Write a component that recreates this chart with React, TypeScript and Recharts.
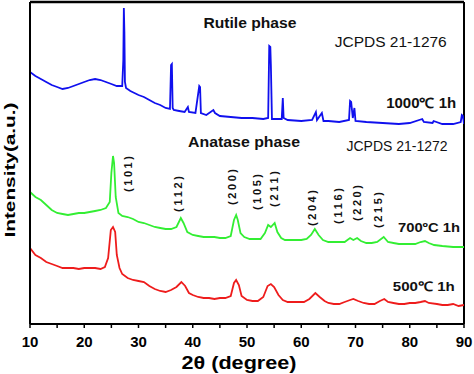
import React from 'react'
import { LineChart, Line, XAxis, YAxis, ReferenceLine, ReferenceDot } from 'recharts'

// [2θ, intensity] (arbitrary units)
const rutile1000: number[][] = [
  [10, 252], [10.5, 250], [11, 248], [12, 245], [13, 242], [14, 239], [15, 237], [16, 235],
  [17, 236], [18, 238], [19, 240], [20, 242], [21, 244], [22, 245], [23, 244], [24, 242],
  [25, 240], [26, 238], [27, 238], [27.2, 264], [27.3, 316], [27.4, 292], [27.5, 242],
  [27.7, 236], [28.5, 233], [30, 229], [31, 227], [32, 224], [33, 221], [34, 219], [35, 216],
  [35.8, 215], [36.0, 259], [36.15, 260], [36.3, 216], [36.5, 214], [37.5, 213], [38.5, 212],
  [39.1, 217], [39.3, 212], [40.5, 211], [41.2, 238], [41.35, 237], [41.5, 211], [42.5, 209],
  [43.8, 214], [44.1, 211], [45, 208], [47, 207], [49, 206], [51, 206], [53, 205], [53.9, 206],
  [54.1, 278], [54.3, 277], [54.4, 259], [54.6, 205], [56.4, 205], [56.6, 226], [56.75, 206],
  [57.5, 204], [60, 203], [62, 204], [62.7, 212], [62.9, 204], [63.8, 211], [64.1, 203],
  [65, 203], [67, 202], [68.8, 204], [69.0, 223], [69.2, 222], [69.5, 206], [69.8, 216],
  [70.0, 203], [72, 202], [75, 201], [78, 200], [80, 201], [82.3, 205], [82.6, 202],
  [84.2, 201], [84.4, 203], [86, 200], [88, 200], [89.4, 202], [89.6, 209], [89.8, 208], [90, 200],
]

const anatase700: number[][] = [
  [10, 132], [11, 127], [12, 124], [13, 119], [14, 114], [15, 111], [16, 110], [17, 109],
  [18, 110], [19, 111], [20, 111], [21, 112], [22, 113], [23, 114], [24, 116], [24.7, 122],
  [25.0, 151], [25.3, 168], [25.5, 161], [25.8, 127], [26.3, 111], [27, 108], [28, 107],
  [29, 105], [30, 102], [31, 101], [32, 99], [33, 97], [34, 96], [35, 95], [36, 95], [37, 97],
  [37.8, 106], [38.3, 101], [39, 92], [40, 89], [41, 88], [42, 87], [43, 87], [44, 87],
  [45, 86], [46, 86], [47, 88], [47.6, 104], [48.0, 109], [48.3, 104], [48.8, 91], [49.5, 87],
  [50.5, 85], [51.5, 85], [52.5, 85], [53.3, 91], [53.9, 99], [54.4, 97], [55.1, 101],
  [55.6, 92], [56.3, 86], [57, 84], [58, 84], [59, 84], [60, 84], [61, 85], [61.8, 89],
  [62.5, 95], [63.2, 89], [64, 84], [65, 82], [66, 82], [67, 82], [68, 82], [69, 86],
  [69.6, 84], [70.3, 86], [71, 83], [72, 81], [73, 81], [74, 82], [75.2, 87], [76, 82],
  [77, 81], [78, 80], [79, 80], [80, 80], [81, 80], [82, 82], [82.8, 83], [83.5, 81],
  [84.5, 79], [86, 78], [88, 77], [90, 77],
]

const anatase500: number[][] = [
  [10, 76], [11, 69], [12, 66], [13, 62], [14, 60], [15, 58], [16, 56], [17, 56], [18, 56],
  [19, 55], [20, 56], [21, 56], [22, 56], [23, 55], [23.8, 57], [24.4, 66], [24.9, 94],
  [25.3, 97], [25.7, 92], [26.0, 69], [26.5, 56], [27, 50], [28, 46], [29, 44], [30, 43],
  [31, 42], [32, 38], [33, 35], [34, 33], [35, 32], [36, 34], [37, 37], [37.9, 42], [38.6, 38],
  [39.3, 31], [40, 29], [41, 27], [42, 26], [43, 26], [44, 25], [45, 26], [46, 26], [47, 28],
  [47.6, 41], [48.0, 44], [48.5, 39], [49, 28], [50, 24], [51, 23], [52, 23], [53, 27],
  [53.8, 38], [54.4, 40], [55, 37], [55.8, 29], [56.6, 24], [57.5, 22], [58.5, 22], [59.5, 22],
  [60.5, 22], [61.5, 25], [62.6, 31], [63.4, 27], [64.3, 23], [65, 21], [66, 20], [67, 20],
  [68, 22], [69, 24], [69.6, 25], [70.5, 23], [71.5, 21], [72.5, 20], [73.5, 20], [74.5, 23],
  [75.3, 25], [76, 22], [77, 21], [78, 20], [79, 20], [80, 21], [81, 21], [82, 22], [82.8, 23],
  [83.5, 21], [85, 20], [86, 19], [87, 19], [88, 20], [89, 18], [90, 19],
]

const xTicks = [10, 15, 20, 25, 30, 35, 40, 45, 50, 55, 60, 65, 70, 75, 80, 85, 90]

// plain annotations: [text, 2θ, intensity, bold, fontSize, width]
const notes: [string, number, number, boolean, number, number][] = [
  ['Rutile phase', 50.55, 296, true, 14, 93],
  ['JCPDS 21-1276', 76.5, 277, false, 14, 112],
  ['1000\u2103 1h', 82.1, 216, true, 14, 70],
  ['Anatase phase', 49.45, 177, true, 14, 112],
  ['JCPDS 21-1272', 77.65, 173, false, 14, 101],
  ['700\u00baC 1h', 83.55, 92, true, 13, 62],
  ['500\u2103 1h', 82.6, 33, true, 13, 62],
]

// hkl labels, rotated
const hklText = ['(101)', '(112)', '(200)', '(105)', '(211)', '(204)', '(116)', '(220)', '(215)']
const hklTheta = [28.06, 37.28, 47.24, 51.84, 54.98, 61.98, 66.77, 70.28, 74.15]
const hklI = [150, 130, 137, 132, 135, 116, 118, 121, 114]

const FONT = '"Liberation Sans", Arial, sans-serif'

const toPts = (arr: number[][]) => arr.map(([x, y]) => ({ x, y }))

export default function App() {
  return (
    <div style={{ position: 'absolute', left: 0, top: 0, width: 474, height: 374, background: '#fff' }}>
      <LineChart width={474} height={374} margin={{ top: 2, right: 10, left: 0, bottom: 0 }}>
        <XAxis
          type="number"
          dataKey="x"
          domain={[10, 90]}
          ticks={xTicks}
          allowDataOverflow
          height={50}
          stroke="#000"
          axisLine={{ stroke: '#000', strokeWidth: 2 }}
          tickLine={{ stroke: '#000', strokeWidth: 1.5 }}
          tickSize={4}
          tickMargin={8}
          tickFormatter={(v: number) => (v % 10 === 0 ? String(v) : '')}
          tick={{ fill: '#000', fontSize: 15, fontWeight: 'bold', fontFamily: FONT }}
          label={{
            content: () => (
              <text x={239} y={369} textAnchor="middle" fontSize={19} fontWeight="bold"
                fontFamily={FONT} fill="#000" textLength={115} lengthAdjust="spacingAndGlyphs">
                2θ (degree)
              </text>
            ),
          }}
        />
        <YAxis
          type="number"
          domain={[0, 322]}
          allowDataOverflow
          width={30}
          tick={false}
          tickLine={false}
          axisLine={{ stroke: '#000', strokeWidth: 2 }}
          label={{
            content: () => (
              <text x={15} y={170} transform="rotate(-90, 15, 170)" textAnchor="middle"
                fontSize={14} fontWeight="bold" fontFamily={FONT} fill="#000"
                textLength={135} lengthAdjust="spacingAndGlyphs">
                Intensity(a.u.)
              </text>
            ),
          }}
        />
        <ReferenceLine y={322} stroke="#000" strokeWidth={2.5} />
        <ReferenceLine x={90} stroke="#000" strokeWidth={2} />

        <Line data={toPts(anatase500)} dataKey="y" type="linear" stroke="#ee1c1c" strokeWidth={1.8}
          dot={false} isAnimationActive={false} />
        <Line data={toPts(anatase700)} dataKey="y" type="linear" stroke="#33ee33" strokeWidth={1.8}
          dot={false} isAnimationActive={false} />
        <Line data={toPts(rutile1000)} dataKey="y" type="linear" stroke="#1010ee" strokeWidth={1.8}
          dot={false} isAnimationActive={false} />

        {notes.map(([t, x, y, bold, fs, w]) => (
          <ReferenceDot key={t} x={x} y={y} r={0} ifOverflow="visible"
            shape={(p: any) => (
              <text x={p.cx} y={p.cy} textAnchor="middle" fontSize={fs} fontFamily={FONT}
                fontWeight={bold ? 'bold' : 'normal'} fill="#111" textLength={w}
                lengthAdjust="spacingAndGlyphs">
                {t}
              </text>
            )}
          />
        ))}
        {hklText.map((t, i) => (
          <ReferenceDot key={t} x={hklTheta[i]} y={hklI[i]} r={0} ifOverflow="visible"
            shape={(p: any) => (
              <text x={p.cx} y={p.cy} transform={`rotate(-90, ${p.cx}, ${p.cy})`}
                textAnchor="middle" dominantBaseline="central" fontSize={11} fontWeight="bold"
                fontFamily={FONT} fill="#111" textLength={36} lengthAdjust="spacing">
                {t}
              </text>
            )}
          />
        ))}
      </LineChart>
    </div>
  )
}
